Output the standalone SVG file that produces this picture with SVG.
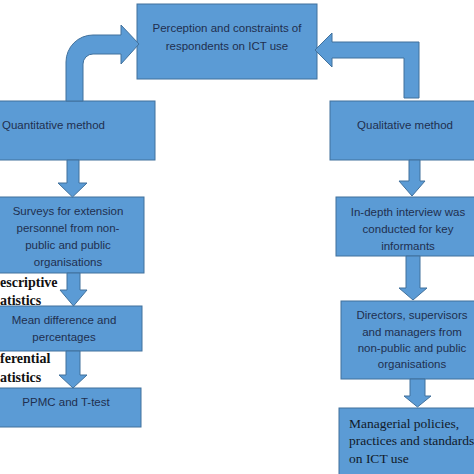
<svg xmlns="http://www.w3.org/2000/svg" width="474" height="474" viewBox="0 0 474 474">
<style>
.box{fill:#5b9bd5;stroke:#41719c;stroke-width:1}
.arr{fill:#5b9bd5;stroke:#41719c;stroke-width:1;stroke-linejoin:miter}
.t{font-family:"Liberation Sans",Arial,sans-serif;font-size:11.5px;fill:#1f2f4f;text-anchor:middle}
.lab{font-family:"Liberation Serif","Times New Roman",serif;font-size:14px;font-weight:bold;fill:#111}
.ser{font-family:"Liberation Serif","Times New Roman",serif;font-size:13.5px;fill:#111a2a}
</style>
<rect width="474" height="474" fill="#fff"/>
<g id="top">
<rect class="box" x="137" y="4" width="180" height="75"/>
<text class="t" x="227" y="32">Perception and constraints of</text>
<text class="t" x="227" y="50">respondents on ICT use</text>
</g>
<g id="quant">
<rect class="box" x="-1" y="101" width="156" height="59"/>
<text class="t" x="2" y="129" style="text-anchor:start">Quantitative method</text>
</g>
<g id="qual">
<rect class="box" x="330" y="101" width="145" height="59"/>
<text class="t" x="405" y="129">Qualitative method</text>
</g>
<g id="surveys">
<rect class="box" x="-1" y="197" width="145" height="76"/>
<text class="t" x="68" y="215">Surveys for extension</text>
<text class="t" x="68" y="232">personnel from non-</text>
<text class="t" x="68" y="249">public and public</text>
<text class="t" x="68" y="266">organisations</text>
</g>
<g id="mean">
<rect class="box" x="-1" y="306" width="143" height="45"/>
<text class="t" x="64" y="324">Mean difference and</text>
<text class="t" x="64" y="341">percentages</text>
</g>
<g id="ppmc">
<rect class="box" x="-1" y="388" width="142" height="39"/>
<text class="t" x="66" y="406">PPMC and T-test</text>
</g>
<g id="indepth">
<rect class="box" x="336" y="197" width="139" height="59"/>
<text class="t" x="408" y="216">In-depth interview was</text>
<text class="t" x="408" y="233">conducted for key</text>
<text class="t" x="408" y="250">informants</text>
</g>
<g id="directors">
<rect class="box" x="341" y="301" width="134" height="78"/>
<text class="t" x="412" y="319">Directors, supervisors</text>
<text class="t" x="412" y="336">and managers from</text>
<text class="t" x="412" y="352">non-public and public</text>
<text class="t" x="412" y="368">organisations</text>
</g>
<g id="managerial">
<rect class="box" x="339" y="408" width="136" height="67"/>
<text class="ser" x="349" y="428">Managerial policies,</text>
<text class="ser" x="349" y="445">practices and standards</text>
<text class="ser" x="349" y="463">on ICT use</text>
</g>
<g id="labels">
<text class="lab" x="0" y="287">escriptive</text>
<text class="lab" x="0" y="305">atistics</text>
<text class="lab" x="0" y="363">ferential</text>
<text class="lab" x="0" y="382">atistics</text>
</g>
<g id="connectors">
<path class="arr" d="M66,101 L66,62 A27,27 0 0 1 93,35 L121,35 L121,25 L139,44 L121,64 L121,54 L93,54 A10,10 0 0 0 83,64 L83,101 Z"/>
<path class="arr" d="M404,98 L404,58 L332,58 L332,67 L315,50 L332,33 L332,42 L419,42 L419,98 Z"/>
<path class="arr" d="M67,160 L67,183 L58,183 L72.5,197 L87,183 L79,183 L79,160 Z"/>
<path class="arr" d="M67,273 L67,290 L60,290 L73.5,306 L87,290 L80,290 L80,273 Z"/>
<path class="arr" d="M66,351 L66,375 L59,375 L73,388 L87,375 L80,375 L80,351 Z"/>
<path class="arr" d="M409,160 L409,181 L399,181 L412,196 L425,181 L420,181 L420,160 Z"/>
<path class="arr" d="M406,256 L406,288 L399,288 L413,300 L427,288 L420,288 L420,256 Z"/>
<path class="arr" d="M410,379 L410,396 L404,396 L417.5,407 L431,396 L425,396 L425,379 Z"/>
</g>
</svg>
